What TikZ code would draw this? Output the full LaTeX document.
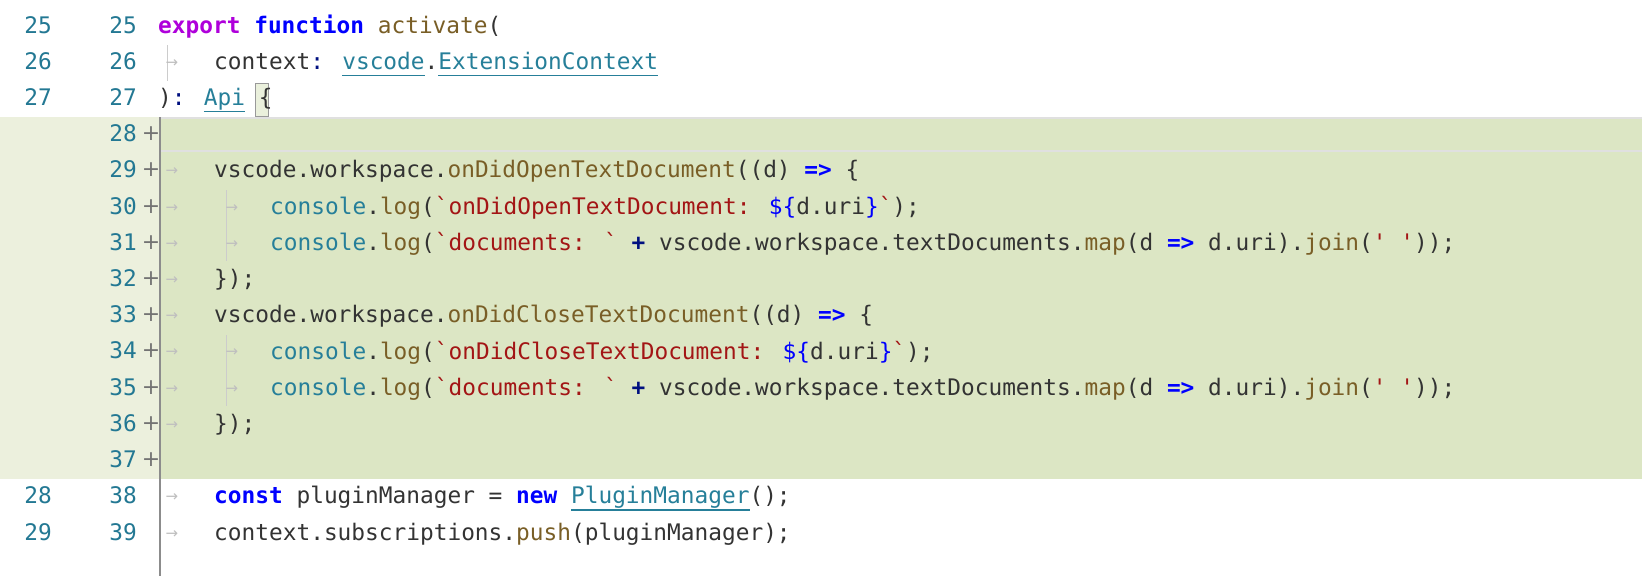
\documentclass[tikz,border=0pt]{standalone}
\usepackage{fontspec}
\newfontfamily\code{DejaVu Sans Mono}
\newfontfamily\sym{DejaVu Sans}
\definecolor{kw}{HTML}{0000FF}
\definecolor{ex}{HTML}{AF00DB}
\definecolor{fn}{HTML}{795E26}
\definecolor{ty}{HTML}{267F99}
\definecolor{st}{HTML}{A31515}
\definecolor{nv}{HTML}{001080}
\definecolor{ln}{HTML}{237893}
\definecolor{tx}{HTML}{333333}
\definecolor{gutg}{HTML}{ECF0DD}
\definecolor{codeg}{HTML}{DCE6C4}
\newcommand\KW[1]{\textcolor{kw}{\bfseries #1}}
\newcommand\EX[1]{\textcolor{ex}{\bfseries #1}}
\newcommand\FN[1]{\textcolor{fn}{#1}}
\newcommand\TY[1]{\textcolor{ty}{#1}}
\newcommand\ST[1]{\textcolor{st}{#1}}
\newcommand\NV[1]{\textcolor{nv}{#1}}
\newcommand\NB[1]{\textcolor{nv}{\bfseries #1}}
\newcommand\UL[1]{\textcolor{ty}{\setbox0\hbox{#1}\rlap{\rule[-7pt]{\wd0}{1.6pt}}\box0}}
\tikzset{
  codeline/.style={anchor=base west,inner sep=0,font=\code\fontsize{22.8}{28}\selectfont,text=tx},
  num/.style={anchor=base east,inner sep=0,font=\code\fontsize{22.8}{28}\selectfont,text=ln},
  ws/.style={anchor=base,inner sep=0,font=\sym\fontsize{15}{18}\selectfont,text=black!25},
  plus/.style={anchor=center,inner sep=0,font=\sym\fontsize{22}{24}\selectfont,text=black!55}
}
\begin{document}
\begin{tikzpicture}[x=1pt,y=-1pt]
\useasboundingbox (0,0) rectangle (1642,576);
\fill[white] (0,0) rectangle (1642,576);
% added band
\fill[gutg] (0,117) rectangle (160,479);
\fill[codeg] (160,117) rectangle (1642,479);
\draw[black!12,line width=1.5pt] (160,118) -- (1642,118);
\draw[black!12,line width=1.5pt] (160,151) -- (1642,151);
\draw[black!45,line width=2pt] (160,117) -- (160,576);
% indent guides
\draw[black!20,line width=1pt] (167,45) -- (167,81);
\draw[black!20,line width=1pt] (226,190) -- (226,261);
\draw[black!20,line width=1pt] (226,335) -- (226,406);
% bracket match box
\draw[black!40,fill=codeg!60,line width=1pt] (255,83) rectangle (268,116);
% numbers
\foreach \i/\o in {0/25,1/26,2/27,13/28,14/29}{
  \node[num] (old\i) at (52,{33+36.22*\i}) {\o};}
\foreach \i in {0,...,14}{
  \pgfmathtruncatemacro\n{25+\i}
  \node[num] (new\i) at (137,{33+36.22*\i}) {\n};}
\foreach \i in {3,...,12}{
  \node[plus] (p\i) at (151,{25+36.22*\i}) {+};}
% whitespace arrows
\foreach \i in {1,4,5,6,7,8,9,10,11,13,14}{
  \node[ws] (w\i) at (172,{31+36.22*\i}) {→};}
\foreach \i in {5,6,9,10}{
  \node[ws] (v\i) at (232,{31+36.22*\i}) {→};}
% code
\node[codeline] (c0) at (158,33) {\EX{export} \KW{function} \FN{activate}(};
\node[codeline] (c1) at (214,69.2) {context\NV{:} \UL{vscode}.\UL{ExtensionContext}};
\node[codeline] (c2) at (158,105.4) {)\NV{:} \UL{Api} \{};
\node[codeline] (c4) at (214,177.9) {vscode.workspace.\FN{onDidOpenTextDocument}((d) \KW{=>} \{};
\node[codeline] (c5) at (270,214.1) {\TY{console}.\FN{log}(\ST{`onDidOpenTextDocument: }\textcolor{kw}{\$\{}d.uri\textcolor{kw}{\}}\ST{`});};
\node[codeline] (c6) at (270,250.3) {\TY{console}.\FN{log}(\ST{`documents: `} \NB{+} vscode.workspace.textDocuments.\FN{map}(d \KW{=>} d.uri).\FN{join}(\ST{' '}));};
\node[codeline] (c7) at (214,286.5) {\});};
\node[codeline] (c8) at (214,322.8) {vscode.workspace.\FN{onDidCloseTextDocument}((d) \KW{=>} \{};
\node[codeline] (c9) at (270,359.0) {\TY{console}.\FN{log}(\ST{`onDidCloseTextDocument: }\textcolor{kw}{\$\{}d.uri\textcolor{kw}{\}}\ST{`});};
\node[codeline] (c10) at (270,395.2) {\TY{console}.\FN{log}(\ST{`documents: `} \NB{+} vscode.workspace.textDocuments.\FN{map}(d \KW{=>} d.uri).\FN{join}(\ST{' '}));};
\node[codeline] (c11) at (214,431.4) {\});};
\node[codeline] (c13) at (214,503.9) {\KW{const} pluginManager = \KW{new} \UL{PluginManager}();};
\node[codeline] (c14) at (214,540.1) {context.subscriptions.\FN{push}(pluginManager);};
\end{tikzpicture}
\end{document}
